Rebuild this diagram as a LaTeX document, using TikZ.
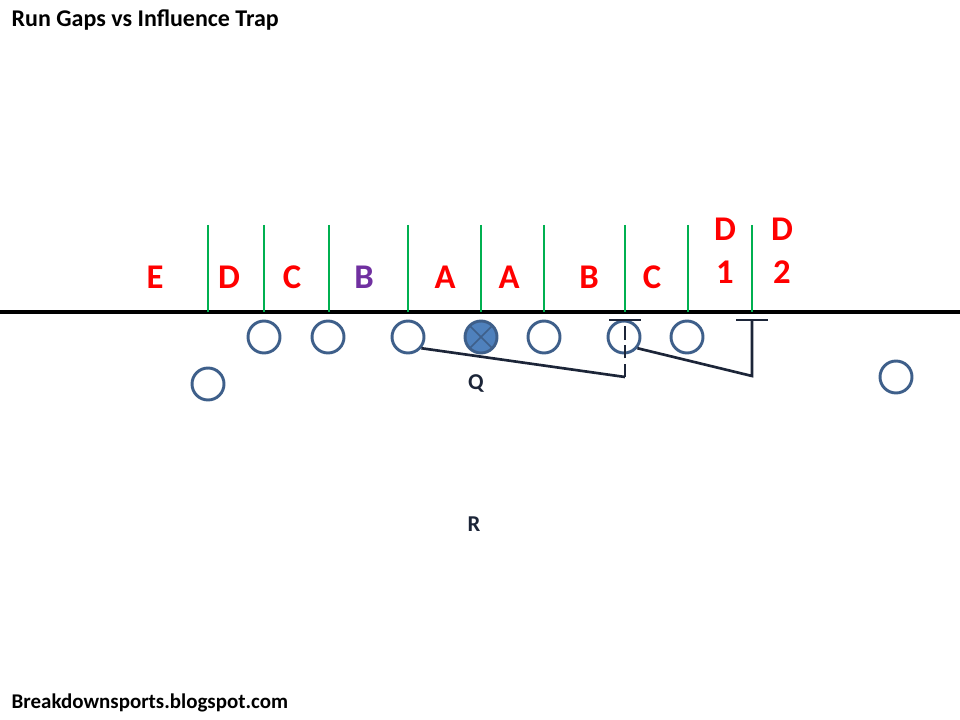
\documentclass[tikz,border=0pt]{standalone}
\usepackage{fontspec}
\setmainfont{Carlito}
\usepackage{xcolor}
\usepackage{tikz}
\usetikzlibrary{positioning}

\definecolor{gapred}{HTML}{FF0000}
\definecolor{gappurple}{HTML}{7030A0}
\definecolor{gapgreen}{HTML}{00B050}
\definecolor{manline}{HTML}{3E5F8A}
\definecolor{manfill}{HTML}{4F81BD}
\definecolor{blockline}{HTML}{1C2538}

\begin{document}
\begin{tikzpicture}[x=0.75pt,y=-0.75pt]
        \useasboundingbox (0,0) rectangle (960,720);
        % titles
        \node[anchor=west,font=\bfseries\fontsize{18}{20}\selectfont] (title) at (7,20) {Run Gaps vs Influence Trap};
        \node[anchor=west,font=\bfseries\fontsize{15.7}{18}\selectfont] (site) at (7,703) {Breakdownsports.blogspot.com};
        % line of scrimmage
        \draw[black,line width=2.4pt] (0,312) -- (960,312);
        % gap marks
        \foreach \x in {208,264,329,408,481,544,625,688,752}
          \draw[gapgreen,line width=2pt] (\x,225) -- (\x,312);
        \begin{scope}[every node/.style={font=\bfseries\fontsize{26}{28}\selectfont,text=gapred,inner sep=0pt}]
          \node (e) at (155,277) {E};
          \node (dl) at (229,277) {D};
          \node (cl) at (292,277) {C};
          \node[text=gappurple] (bl) at (364,277) {B};
          \node (al) at (445,277) {A};
          \node (ar) at (509,277) {A};
          \node (br) at (589,277) {B};
          \node (cr) at (652,277) {C};
          \node (d1) at (725,229) {D};
          \node (n1) at (725,272) {1};
          \node (d2) at (782,229) {D};
          \node (n2) at (782,272) {2};
        \end{scope}
        % offense
        \begin{scope}[every node/.style={draw=manline,line width=2.2pt,circle,minimum size=24pt,inner sep=0pt}]
          \node (lt) at (264,337) {};
          \node (lg) at (328,337) {};
          \node (lc) at (408,337) {};
          \node[fill=manfill,path picture={
              \draw[manline,line width=1.2pt] (path picture bounding box.north west) -- (path picture bounding box.south east);
              \draw[manline,line width=1.2pt] (path picture bounding box.south west) -- (path picture bounding box.north east);}] (ctr) at (481,337) {};
          \node (rg) at (544,337) {};
          \node (rt) at (624,337) {};
          \node (te) at (687,337) {};
          \node (wl) at (208,384) {};
          \node (wr) at (896,377) {};
        \end{scope}
        \begin{scope}[every node/.style={font=\bfseries\fontsize{17}{20}\selectfont,text=blockline}]
          \node (q) at (476,383) {Q};
          \node (r) at (474,524) {R};
        \end{scope}
        % blocks
        \coordinate (k1) at (625,377);
        \coordinate (t1) at (625,320);
        \coordinate (k2) at (752,376);
        \coordinate (t2) at (752,320);
        \begin{scope}[every path/.style={draw=blockline,line width=2pt}]
          \path (lc.-40) -- (k1);
          \path[dash pattern=on 10pt off 4pt] (k1) -- (t1);
          \path ([xshift=-12pt]t1) -- ([xshift=12pt]t1);
          \path (rt.-40) -- (k2) -- (t2);
          \path ([xshift=-12pt]t2) -- ([xshift=12pt]t2);
        \end{scope}
      \end{tikzpicture}
\end{document}
